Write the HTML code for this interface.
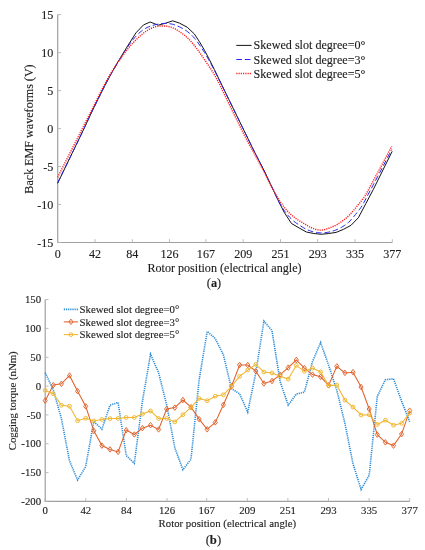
<!DOCTYPE html>
<html><head><meta charset="utf-8"><title>Figure</title>
<style>html,body{margin:0;padding:0;background:#fff;}svg{display:block;}text{font-family:'Liberation Serif', serif;fill:#1c1c1c;stroke:#1c1c1c;stroke-width:0.12px;}</style></head><body>
<svg width="425" height="550" viewBox="0 0 425 550">
<rect width="425" height="550" fill="#fff"/>
<g font-size="12.1">
<path d="M57.7,14.6 V242.5 H392.3" fill="none" stroke="#a0a0a0" stroke-width="1.2"/>
<line x1="57.7" x2="61.0" y1="242.5" y2="242.5" stroke="#b4b4b4" stroke-width="0.9"/>
<text x="53.300000000000004" y="246.6" text-anchor="end">-15</text>
<line x1="57.7" x2="61.0" y1="204.5" y2="204.5" stroke="#b4b4b4" stroke-width="0.9"/>
<text x="53.300000000000004" y="208.6" text-anchor="end">-10</text>
<line x1="57.7" x2="61.0" y1="166.5" y2="166.5" stroke="#b4b4b4" stroke-width="0.9"/>
<text x="53.300000000000004" y="170.6" text-anchor="end">-5</text>
<line x1="57.7" x2="61.0" y1="128.6" y2="128.6" stroke="#b4b4b4" stroke-width="0.9"/>
<text x="53.300000000000004" y="132.7" text-anchor="end">0</text>
<line x1="57.7" x2="61.0" y1="90.6" y2="90.6" stroke="#b4b4b4" stroke-width="0.9"/>
<text x="53.300000000000004" y="94.7" text-anchor="end">5</text>
<line x1="57.7" x2="61.0" y1="52.6" y2="52.6" stroke="#b4b4b4" stroke-width="0.9"/>
<text x="53.300000000000004" y="56.7" text-anchor="end">10</text>
<line x1="57.7" x2="61.0" y1="14.6" y2="14.6" stroke="#b4b4b4" stroke-width="0.9"/>
<text x="53.300000000000004" y="18.7" text-anchor="end">15</text>
<line x1="57.7" x2="57.7" y1="242.5" y2="239.2" stroke="#b4b4b4" stroke-width="0.9"/>
<text x="57.7" y="257.5" text-anchor="middle">0</text>
<line x1="95.0" x2="95.0" y1="242.5" y2="239.2" stroke="#b4b4b4" stroke-width="0.9"/>
<text x="95.0" y="257.5" text-anchor="middle">42</text>
<line x1="132.3" x2="132.3" y1="242.5" y2="239.2" stroke="#b4b4b4" stroke-width="0.9"/>
<text x="132.3" y="257.5" text-anchor="middle">84</text>
<line x1="169.5" x2="169.5" y1="242.5" y2="239.2" stroke="#b4b4b4" stroke-width="0.9"/>
<text x="169.5" y="257.5" text-anchor="middle">126</text>
<line x1="205.9" x2="205.9" y1="242.5" y2="239.2" stroke="#b4b4b4" stroke-width="0.9"/>
<text x="205.9" y="257.5" text-anchor="middle">167</text>
<line x1="243.2" x2="243.2" y1="242.5" y2="239.2" stroke="#b4b4b4" stroke-width="0.9"/>
<text x="243.2" y="257.5" text-anchor="middle">209</text>
<line x1="280.5" x2="280.5" y1="242.5" y2="239.2" stroke="#b4b4b4" stroke-width="0.9"/>
<text x="280.5" y="257.5" text-anchor="middle">251</text>
<line x1="317.7" x2="317.7" y1="242.5" y2="239.2" stroke="#b4b4b4" stroke-width="0.9"/>
<text x="317.7" y="257.5" text-anchor="middle">293</text>
<line x1="355.0" x2="355.0" y1="242.5" y2="239.2" stroke="#b4b4b4" stroke-width="0.9"/>
<text x="355.0" y="257.5" text-anchor="middle">335</text>
<line x1="392.3" x2="392.3" y1="242.5" y2="239.2" stroke="#b4b4b4" stroke-width="0.9"/>
<text x="392.3" y="257.5" text-anchor="middle">377</text>
<text x="224.5" y="271.9" text-anchor="middle">Rotor position (electrical angle)</text>
<text transform="translate(33.0,129) rotate(-90)" text-anchor="middle">Back EMF waveforms (V)</text>
<polyline points="57.6,183.3 84.0,128.6 92.2,111.0 98.7,97.8 104.5,86.3 111.8,72.6 119.1,59.9 124.9,50.4 129.3,43.3 136.0,32.8 143.5,24.9 150.2,22.0 158.2,25.2 165.3,23.3 172.7,20.8 179.6,23.2 187.2,27.2 194.4,34.0 199.5,41.8 204.5,50.3 209.4,59.6 214.4,69.6 219.2,79.6 229.0,99.8 238.8,119.9 248.6,139.9 253.5,150.0 264.0,170.5 273.5,190.5 278.0,200.0 284.1,212.2 291.5,223.5 299.0,227.9 306.4,232.0 313.8,233.5 321.3,234.3 328.7,233.5 336.1,232.4 343.6,229.3 351.0,225.3 358.4,217.7 365.9,203.5 373.3,189.5 392.2,151.3" fill="none" stroke="#141414" stroke-width="1.0" stroke-linejoin="round"/>
<polyline points="57.6,183.0 59.0,180.1 60.4,177.3 61.8,174.4 63.2,171.5 64.6,168.7 66.0,165.8 67.4,163.0 68.8,160.1 70.2,157.3 71.6,154.4 73.0,151.5 74.4,148.7 75.8,145.8 77.2,142.9 78.6,140.0 80.0,137.1 81.4,134.2 82.8,131.2 84.2,128.2 85.6,125.2 87.0,122.2 88.4,119.2 89.8,116.2 91.2,113.2 92.6,110.3 94.0,107.4 95.4,104.5 96.8,101.7 98.2,98.9 99.5,96.1 100.9,93.3 102.3,90.5 103.7,87.8 105.1,85.1 106.5,82.4 107.9,79.8 109.3,77.2 110.7,74.7 112.1,72.2 113.5,69.8 114.9,67.4 116.3,65.1 117.7,62.8 119.1,60.5 120.5,58.2 121.9,55.9 123.3,53.7 124.7,51.5 126.1,49.3 127.5,47.1 128.9,45.0 130.3,43.1 131.7,41.2 133.1,39.5 134.5,37.8 135.9,36.3 137.3,34.8 138.7,33.5 140.1,32.2 141.5,31.1 142.9,30.0 144.3,29.1 145.7,28.3 147.1,27.5 148.5,26.9 149.9,26.4 151.3,25.8 152.7,25.4 154.1,25.0 155.5,24.6 156.9,24.3 158.3,24.1 159.7,23.8 161.1,23.6 162.5,23.5 163.9,23.4 165.3,23.4 166.7,23.4 168.1,23.5 169.5,23.7 170.9,23.9 172.3,24.2 173.7,24.6 175.1,25.1 176.5,25.6 177.9,26.2 179.3,26.8 180.7,27.5 182.1,28.2 183.4,29.0 184.8,29.8 186.2,30.7 187.6,31.7 189.0,32.8 190.4,34.0 191.8,35.3 193.2,36.7 194.6,38.3 196.0,40.0 197.4,41.9 198.8,43.9 200.2,45.9 201.6,48.0 203.0,50.2 204.4,52.4 205.8,54.7 207.2,57.1 208.6,59.6 210.0,62.1 211.4,64.7 212.8,67.3 214.2,69.9 215.6,72.7 217.0,75.4 218.4,78.2 219.8,81.0 221.2,83.8 222.6,86.7 224.0,89.5 225.4,92.4 226.8,95.3 228.2,98.2 229.6,101.0 231.0,103.9 232.4,106.8 233.8,109.6 235.2,112.5 236.6,115.4 238.0,118.2 239.4,121.1 240.8,123.9 242.2,126.8 243.6,129.6 245.0,132.5 246.4,135.3 247.8,138.2 249.2,141.1 250.6,144.0 252.0,146.9 253.4,149.7 254.8,152.5 256.2,155.3 257.6,158.0 259.0,160.6 260.4,163.3 261.8,166.0 263.2,168.8 264.6,171.6 266.0,174.5 267.3,177.5 268.7,180.4 270.1,183.4 271.5,186.4 272.9,189.3 274.3,192.3 275.7,195.3 277.1,198.3 278.5,201.1 279.9,203.7 281.3,206.1 282.7,208.3 284.1,210.4 285.5,212.3 286.9,214.1 288.3,215.7 289.7,217.3 291.1,218.7 292.5,220.1 293.9,221.3 295.3,222.4 296.7,223.4 298.1,224.3 299.5,225.2 300.9,226.1 302.3,227.0 303.7,227.8 305.1,228.6 306.5,229.3 307.9,230.0 309.3,230.5 310.7,231.0 312.1,231.5 313.5,231.9 314.9,232.2 316.3,232.4 317.7,232.7 319.1,232.8 320.5,232.9 321.9,232.9 323.3,232.9 324.7,232.8 326.1,232.6 327.5,232.3 328.9,232.1 330.3,231.7 331.7,231.4 333.1,231.0 334.5,230.5 335.9,230.0 337.3,229.4 338.7,228.8 340.1,228.1 341.5,227.3 342.9,226.5 344.3,225.6 345.7,224.6 347.1,223.6 348.5,222.4 349.9,221.1 351.2,219.6 352.6,218.0 354.0,216.3 355.4,214.6 356.8,212.9 358.2,211.1 359.6,209.3 361.0,207.4 362.4,205.2 363.8,202.7 365.2,200.1 366.6,197.4 368.0,194.8 369.4,192.1 370.8,189.5 372.2,186.9 373.6,184.3 375.0,181.6 376.4,179.0 377.8,176.3 379.2,173.6 380.6,171.0 382.0,168.3 383.4,165.6 384.8,162.9 386.2,160.2 387.6,157.5 389.0,154.9 390.4,152.2 391.8,149.5" fill="none" stroke="#2222f5" stroke-width="1.0" stroke-dasharray="5.7,2.8"/>
<polyline points="57.6,177.4 59.0,174.6 60.4,171.9 61.8,169.1 63.2,166.4 64.6,163.6 66.0,160.8 67.4,158.1 68.8,155.3 70.2,152.5 71.6,149.8 73.0,147.0 74.4,144.3 75.8,141.5 77.2,138.7 78.6,136.0 80.0,133.2 81.4,130.4 82.8,127.7 84.2,124.9 85.6,122.2 87.0,119.4 88.4,116.7 89.8,113.9 91.2,111.1 92.6,108.3 94.0,105.4 95.4,102.5 96.8,99.7 98.2,96.9 99.5,94.1 100.9,91.4 102.3,88.7 103.7,86.0 105.1,83.4 106.5,80.9 107.9,78.4 109.3,75.9 110.7,73.5 112.1,71.2 113.5,69.0 114.9,66.8 116.3,64.7 117.7,62.6 119.1,60.6 120.5,58.6 121.9,56.6 123.3,54.7 124.7,52.9 126.1,51.0 127.5,49.2 128.9,47.5 130.3,45.8 131.7,44.2 133.1,42.7 134.5,41.3 135.9,39.9 137.3,38.6 138.7,37.3 140.1,36.0 141.5,34.8 142.9,33.6 144.3,32.5 145.7,31.5 147.1,30.6 148.5,29.7 149.9,28.9 151.3,28.3 152.7,27.7 154.1,27.1 155.5,26.7 156.9,26.4 158.3,26.2 159.7,26.0 161.1,25.9 162.5,25.9 163.9,25.9 165.3,26.0 166.7,26.2 168.1,26.4 169.5,26.7 170.9,27.1 172.3,27.6 173.7,28.2 175.1,28.9 176.5,29.7 177.9,30.6 179.3,31.5 180.7,32.4 182.1,33.4 183.4,34.4 184.8,35.5 186.2,36.7 187.6,38.0 189.0,39.3 190.4,40.8 191.8,42.4 193.2,44.0 194.6,45.8 196.0,47.6 197.4,49.4 198.8,51.4 200.2,53.4 201.6,55.4 203.0,57.4 204.4,59.4 205.8,61.5 207.2,63.6 208.6,65.7 210.0,67.8 211.4,69.9 212.8,72.2 214.2,74.5 215.6,76.8 217.0,79.3 218.4,81.9 219.8,84.6 221.2,87.5 222.6,90.5 224.0,93.5 225.4,96.5 226.8,99.4 228.2,102.3 229.6,105.1 231.0,108.0 232.4,110.9 233.8,113.8 235.2,116.6 236.6,119.5 238.0,122.3 239.4,125.2 240.8,128.0 242.2,130.8 243.6,133.6 245.0,136.4 246.4,139.1 247.8,141.7 249.2,144.3 250.6,146.8 252.0,149.4 253.4,152.0 254.8,154.5 256.2,157.1 257.6,159.7 259.0,162.3 260.4,164.9 261.8,167.6 263.2,170.2 264.6,172.9 266.0,175.7 267.3,178.5 268.7,181.4 270.1,184.2 271.5,186.9 272.9,189.5 274.3,192.0 275.7,194.4 277.1,196.7 278.5,199.0 279.9,201.2 281.3,203.2 282.7,205.2 284.1,207.1 285.5,208.8 286.9,210.5 288.3,212.0 289.7,213.3 291.1,214.6 292.5,215.9 293.9,217.0 295.3,218.1 296.7,219.1 298.1,220.0 299.5,220.9 300.9,221.7 302.3,222.5 303.7,223.4 305.1,224.2 306.5,225.1 307.9,225.9 309.3,226.7 310.7,227.4 312.1,228.0 313.5,228.6 314.9,229.1 316.3,229.5 317.7,229.8 319.1,230.0 320.5,230.1 321.9,230.1 323.3,229.9 324.7,229.6 326.1,229.2 327.5,228.7 328.9,228.2 330.3,227.7 331.7,227.1 333.1,226.5 334.5,225.9 335.9,225.1 337.3,224.4 338.7,223.5 340.1,222.6 341.5,221.7 342.9,220.6 344.3,219.5 345.7,218.4 347.1,217.2 348.5,215.9 349.9,214.6 351.2,213.1 352.6,211.5 354.0,209.9 355.4,208.2 356.8,206.5 358.2,204.8 359.6,203.1 361.0,201.4 362.4,199.5 363.8,197.6 365.2,195.6 366.6,193.3 368.0,190.6 369.4,188.0 370.8,185.4 372.2,182.8 373.6,180.2 375.0,177.6 376.4,175.0 377.8,172.4 379.2,169.8 380.6,167.2 382.0,164.6 383.4,162.0 384.8,159.4 386.2,156.8 387.6,154.2 389.0,151.6 390.4,149.0 391.8,146.4" fill="none" stroke="#ff1a1a" stroke-width="1.45" stroke-dasharray="1.15,1.1"/>
<line x1="236.3" x2="251.6" y1="45.4" y2="45.4" stroke="#141414" stroke-width="1.0"/>
<line x1="236.3" x2="251.6" y1="59.5" y2="59.5" stroke="#2222f5" stroke-width="1.0" stroke-dasharray="5.7,2.8"/>
<line x1="236.3" x2="251.6" y1="73.5" y2="73.5" stroke="#ff1a1a" stroke-width="1.45" stroke-dasharray="1.15,1.1"/>
<text x="253.6" y="49.4">Skewed slot degree=0°</text>
<text x="253.6" y="63.5">Skewed slot degree=3°</text>
<text x="253.6" y="77.5">Skewed slot degree=5°</text>
</g>
<text x="214" y="286.9" text-anchor="middle" font-size="12.3">(<tspan font-weight="bold">a</tspan>)</text>
<g font-size="10.8">
<path d="M45.2,299.6 V501.4 H409.7" fill="none" stroke="#a0a0a0" stroke-width="1.2"/>
<line x1="45.2" x2="48.5" y1="501.4" y2="501.4" stroke="#b4b4b4" stroke-width="0.9"/>
<text x="41.1" y="505.1" text-anchor="end">-200</text>
<line x1="45.2" x2="48.5" y1="472.6" y2="472.6" stroke="#b4b4b4" stroke-width="0.9"/>
<text x="41.1" y="476.3" text-anchor="end">-150</text>
<line x1="45.2" x2="48.5" y1="443.7" y2="443.7" stroke="#b4b4b4" stroke-width="0.9"/>
<text x="41.1" y="447.4" text-anchor="end">-100</text>
<line x1="45.2" x2="48.5" y1="414.9" y2="414.9" stroke="#b4b4b4" stroke-width="0.9"/>
<text x="41.1" y="418.6" text-anchor="end">-50</text>
<line x1="45.2" x2="48.5" y1="386.1" y2="386.1" stroke="#b4b4b4" stroke-width="0.9"/>
<text x="41.1" y="389.8" text-anchor="end">0</text>
<line x1="45.2" x2="48.5" y1="357.3" y2="357.3" stroke="#b4b4b4" stroke-width="0.9"/>
<text x="41.1" y="361.0" text-anchor="end">50</text>
<line x1="45.2" x2="48.5" y1="328.4" y2="328.4" stroke="#b4b4b4" stroke-width="0.9"/>
<text x="41.1" y="332.1" text-anchor="end">100</text>
<line x1="45.2" x2="48.5" y1="299.6" y2="299.6" stroke="#b4b4b4" stroke-width="0.9"/>
<text x="41.1" y="303.3" text-anchor="end">150</text>
<line x1="45.2" x2="45.2" y1="501.4" y2="498.09999999999997" stroke="#b4b4b4" stroke-width="0.9"/>
<text x="45.2" y="514.4" text-anchor="middle">0</text>
<line x1="85.8" x2="85.8" y1="501.4" y2="498.09999999999997" stroke="#b4b4b4" stroke-width="0.9"/>
<text x="85.8" y="514.4" text-anchor="middle">42</text>
<line x1="126.4" x2="126.4" y1="501.4" y2="498.09999999999997" stroke="#b4b4b4" stroke-width="0.9"/>
<text x="126.4" y="514.4" text-anchor="middle">84</text>
<line x1="167.0" x2="167.0" y1="501.4" y2="498.09999999999997" stroke="#b4b4b4" stroke-width="0.9"/>
<text x="167.0" y="514.4" text-anchor="middle">126</text>
<line x1="206.7" x2="206.7" y1="501.4" y2="498.09999999999997" stroke="#b4b4b4" stroke-width="0.9"/>
<text x="206.7" y="514.4" text-anchor="middle">167</text>
<line x1="247.3" x2="247.3" y1="501.4" y2="498.09999999999997" stroke="#b4b4b4" stroke-width="0.9"/>
<text x="247.3" y="514.4" text-anchor="middle">209</text>
<line x1="287.9" x2="287.9" y1="501.4" y2="498.09999999999997" stroke="#b4b4b4" stroke-width="0.9"/>
<text x="287.9" y="514.4" text-anchor="middle">251</text>
<line x1="328.5" x2="328.5" y1="501.4" y2="498.09999999999997" stroke="#b4b4b4" stroke-width="0.9"/>
<text x="328.5" y="514.4" text-anchor="middle">293</text>
<line x1="369.1" x2="369.1" y1="501.4" y2="498.09999999999997" stroke="#b4b4b4" stroke-width="0.9"/>
<text x="369.1" y="514.4" text-anchor="middle">335</text>
<line x1="409.7" x2="409.7" y1="501.4" y2="498.09999999999997" stroke="#b4b4b4" stroke-width="0.9"/>
<text x="409.7" y="514.4" text-anchor="middle">377</text>
<text x="227.4" y="527.4" text-anchor="middle">Rotor position (electrical angle)</text>
<text transform="translate(16.0,400.8) rotate(-90)" text-anchor="middle">Cogging torque (nNm)</text>
<polyline points="45.2,372.7 53.3,389.9 61.4,418.5 69.5,460.9 77.6,480.0 85.7,466.6 93.8,421.5 101.9,429.2 110.0,405.3 118.1,402.4 126.2,455.4 134.3,463.4 142.4,401.5 150.5,354.2 158.6,372.7 166.7,405.0 174.8,447.7 182.9,469.7 191.0,459.2 199.1,380.0 207.2,331.4 215.3,338.6 223.4,354.9 231.5,388.7 239.6,393.8 247.7,412.1 255.8,373.0 263.9,321.1 272.0,330.6 280.1,381.6 288.2,405.1 296.3,394.0 304.4,392.1 312.5,361.5 320.6,342.5 328.7,365.5 336.8,390.3 344.9,423.3 353.0,463.8 361.1,489.5 369.2,475.2 377.3,396.3 385.4,379.7 393.5,378.8 401.6,401.1 409.7,421.7" fill="none" stroke="#2b8bd6" stroke-width="1.6" stroke-dasharray="1.2,0.95"/>
<polyline points="45.2,400.7 53.3,385.1 61.4,383.8 69.5,375.5 77.6,391.2 85.7,406.3 93.8,430.8 101.9,445.6 110.0,449.4 118.1,451.9 126.2,430.1 134.3,434.5 142.4,428.2 150.5,425.2 158.6,429.5 166.7,409.0 174.8,407.6 182.9,400.0 191.0,407.2 199.1,419.1 207.2,429.3 215.3,422.4 223.4,404.8 231.5,386.2 239.6,365.0 247.7,365.0 255.8,371.1 263.9,383.5 272.0,381.0 280.1,374.9 288.2,367.7 296.3,360.0 304.4,368.1 312.5,374.6 320.6,376.8 328.7,385.3 336.8,366.3 344.9,372.9 353.0,372.2 361.1,387.0 369.2,409.0 377.3,434.7 385.4,442.3 393.5,445.6 401.6,434.1 409.7,410.6" fill="none" stroke="#e0622b" stroke-width="1.05"/>
<polyline points="45.2,390.4 53.3,393.7 61.4,405.3 69.5,406.2 77.6,420.7 85.7,418.3 93.8,420.9 101.9,419.5 110.0,418.6 118.1,418.4 126.2,417.5 134.3,417.5 142.4,414.1 150.5,410.9 158.6,418.5 166.7,418.5 174.8,421.9 182.9,414.7 191.0,407.4 199.1,398.4 207.2,400.7 215.3,396.2 223.4,394.8 231.5,386.4 239.6,376.4 247.7,370.1 255.8,364.4 263.9,372.0 272.0,373.0 280.1,376.2 288.2,379.1 296.3,365.4 304.4,371.3 312.5,368.1 320.6,371.9 328.7,385.6 336.8,385.1 344.9,400.1 353.0,407.1 361.1,415.0 369.2,414.7 377.3,424.5 385.4,420.2 393.5,425.2 401.6,423.3 409.7,413.1" fill="none" stroke="#efb62e" stroke-width="1.05"/>
<path d="M43.2,400.7 L45.2,397.9 L47.2,400.7 L45.2,403.4 Z" fill="none" stroke="#e0622b" stroke-width="0.95"/>
<path d="M51.3,385.1 L53.3,382.4 L55.4,385.1 L53.3,387.9 Z" fill="none" stroke="#e0622b" stroke-width="0.95"/>
<path d="M59.4,383.8 L61.4,381.1 L63.5,383.8 L61.4,386.6 Z" fill="none" stroke="#e0622b" stroke-width="0.95"/>
<path d="M67.5,375.5 L69.5,372.8 L71.5,375.5 L69.5,378.2 Z" fill="none" stroke="#e0622b" stroke-width="0.95"/>
<path d="M75.5,391.2 L77.6,388.4 L79.6,391.2 L77.6,393.9 Z" fill="none" stroke="#e0622b" stroke-width="0.95"/>
<path d="M83.7,406.3 L85.7,403.6 L87.8,406.3 L85.7,409.1 Z" fill="none" stroke="#e0622b" stroke-width="0.95"/>
<path d="M91.8,430.8 L93.8,428.1 L95.8,430.8 L93.8,433.6 Z" fill="none" stroke="#e0622b" stroke-width="0.95"/>
<path d="M99.9,445.6 L101.9,442.9 L104.0,445.6 L101.9,448.4 Z" fill="none" stroke="#e0622b" stroke-width="0.95"/>
<path d="M108.0,449.4 L110.0,446.6 L112.0,449.4 L110.0,452.1 Z" fill="none" stroke="#e0622b" stroke-width="0.95"/>
<path d="M116.0,451.9 L118.1,449.1 L120.1,451.9 L118.1,454.6 Z" fill="none" stroke="#e0622b" stroke-width="0.95"/>
<path d="M124.2,430.1 L126.2,427.4 L128.2,430.1 L126.2,432.9 Z" fill="none" stroke="#e0622b" stroke-width="0.95"/>
<path d="M132.2,434.5 L134.3,431.8 L136.4,434.5 L134.3,437.2 Z" fill="none" stroke="#e0622b" stroke-width="0.95"/>
<path d="M140.3,428.2 L142.4,425.4 L144.4,428.2 L142.4,430.9 Z" fill="none" stroke="#e0622b" stroke-width="0.95"/>
<path d="M148.4,425.2 L150.5,422.4 L152.6,425.2 L150.5,427.9 Z" fill="none" stroke="#e0622b" stroke-width="0.95"/>
<path d="M156.5,429.5 L158.6,426.8 L160.7,429.5 L158.6,432.2 Z" fill="none" stroke="#e0622b" stroke-width="0.95"/>
<path d="M164.6,409.0 L166.7,406.2 L168.8,409.0 L166.7,411.8 Z" fill="none" stroke="#e0622b" stroke-width="0.95"/>
<path d="M172.8,407.6 L174.8,404.9 L176.9,407.6 L174.8,410.4 Z" fill="none" stroke="#e0622b" stroke-width="0.95"/>
<path d="M180.8,400.0 L182.9,397.2 L184.9,400.0 L182.9,402.8 Z" fill="none" stroke="#e0622b" stroke-width="0.95"/>
<path d="M188.9,407.2 L191.0,404.4 L193.1,407.2 L191.0,409.9 Z" fill="none" stroke="#e0622b" stroke-width="0.95"/>
<path d="M197.1,419.1 L199.1,416.4 L201.2,419.1 L199.1,421.9 Z" fill="none" stroke="#e0622b" stroke-width="0.95"/>
<path d="M205.1,429.3 L207.2,426.6 L209.2,429.3 L207.2,432.1 Z" fill="none" stroke="#e0622b" stroke-width="0.95"/>
<path d="M213.2,422.4 L215.3,419.6 L217.4,422.4 L215.3,425.1 Z" fill="none" stroke="#e0622b" stroke-width="0.95"/>
<path d="M221.3,404.8 L223.4,402.1 L225.4,404.8 L223.4,407.6 Z" fill="none" stroke="#e0622b" stroke-width="0.95"/>
<path d="M229.4,386.2 L231.5,383.4 L233.6,386.2 L231.5,388.9 Z" fill="none" stroke="#e0622b" stroke-width="0.95"/>
<path d="M237.5,365.0 L239.6,362.2 L241.6,365.0 L239.6,367.8 Z" fill="none" stroke="#e0622b" stroke-width="0.95"/>
<path d="M245.6,365.0 L247.7,362.2 L249.8,365.0 L247.7,367.8 Z" fill="none" stroke="#e0622b" stroke-width="0.95"/>
<path d="M253.8,371.1 L255.8,368.4 L257.9,371.1 L255.8,373.9 Z" fill="none" stroke="#e0622b" stroke-width="0.95"/>
<path d="M261.8,383.5 L263.9,380.8 L265.9,383.5 L263.9,386.2 Z" fill="none" stroke="#e0622b" stroke-width="0.95"/>
<path d="M269.9,381.0 L272.0,378.2 L274.1,381.0 L272.0,383.8 Z" fill="none" stroke="#e0622b" stroke-width="0.95"/>
<path d="M278.0,374.9 L280.1,372.1 L282.1,374.9 L280.1,377.6 Z" fill="none" stroke="#e0622b" stroke-width="0.95"/>
<path d="M286.1,367.7 L288.2,364.9 L290.2,367.7 L288.2,370.4 Z" fill="none" stroke="#e0622b" stroke-width="0.95"/>
<path d="M294.2,360.0 L296.3,357.2 L298.4,360.0 L296.3,362.8 Z" fill="none" stroke="#e0622b" stroke-width="0.95"/>
<path d="M302.3,368.1 L304.4,365.4 L306.4,368.1 L304.4,370.9 Z" fill="none" stroke="#e0622b" stroke-width="0.95"/>
<path d="M310.4,374.6 L312.5,371.9 L314.6,374.6 L312.5,377.4 Z" fill="none" stroke="#e0622b" stroke-width="0.95"/>
<path d="M318.5,376.8 L320.6,374.1 L322.6,376.8 L320.6,379.6 Z" fill="none" stroke="#e0622b" stroke-width="0.95"/>
<path d="M326.6,385.3 L328.7,382.6 L330.8,385.3 L328.7,388.1 Z" fill="none" stroke="#e0622b" stroke-width="0.95"/>
<path d="M334.7,366.3 L336.8,363.6 L338.8,366.3 L336.8,369.1 Z" fill="none" stroke="#e0622b" stroke-width="0.95"/>
<path d="M342.8,372.9 L344.9,370.1 L346.9,372.9 L344.9,375.6 Z" fill="none" stroke="#e0622b" stroke-width="0.95"/>
<path d="M350.9,372.2 L353.0,369.4 L355.1,372.2 L353.0,374.9 Z" fill="none" stroke="#e0622b" stroke-width="0.95"/>
<path d="M359.0,387.0 L361.1,384.2 L363.1,387.0 L361.1,389.8 Z" fill="none" stroke="#e0622b" stroke-width="0.95"/>
<path d="M367.1,409.0 L369.2,406.2 L371.2,409.0 L369.2,411.8 Z" fill="none" stroke="#e0622b" stroke-width="0.95"/>
<path d="M375.2,434.7 L377.3,431.9 L379.3,434.7 L377.3,437.4 Z" fill="none" stroke="#e0622b" stroke-width="0.95"/>
<path d="M383.3,442.3 L385.4,439.6 L387.4,442.3 L385.4,445.1 Z" fill="none" stroke="#e0622b" stroke-width="0.95"/>
<path d="M391.4,445.6 L393.5,442.9 L395.6,445.6 L393.5,448.4 Z" fill="none" stroke="#e0622b" stroke-width="0.95"/>
<path d="M399.5,434.1 L401.6,431.4 L403.6,434.1 L401.6,436.9 Z" fill="none" stroke="#e0622b" stroke-width="0.95"/>
<path d="M407.6,410.6 L409.7,407.9 L411.8,410.6 L409.7,413.4 Z" fill="none" stroke="#e0622b" stroke-width="0.95"/>
<circle cx="45.2" cy="390.4" r="1.9" fill="none" stroke="#efb62e" stroke-width="0.95"/>
<circle cx="53.3" cy="393.7" r="1.9" fill="none" stroke="#efb62e" stroke-width="0.95"/>
<circle cx="61.4" cy="405.3" r="1.9" fill="none" stroke="#efb62e" stroke-width="0.95"/>
<circle cx="69.5" cy="406.2" r="1.9" fill="none" stroke="#efb62e" stroke-width="0.95"/>
<circle cx="77.6" cy="420.7" r="1.9" fill="none" stroke="#efb62e" stroke-width="0.95"/>
<circle cx="85.7" cy="418.3" r="1.9" fill="none" stroke="#efb62e" stroke-width="0.95"/>
<circle cx="93.8" cy="420.9" r="1.9" fill="none" stroke="#efb62e" stroke-width="0.95"/>
<circle cx="101.9" cy="419.5" r="1.9" fill="none" stroke="#efb62e" stroke-width="0.95"/>
<circle cx="110.0" cy="418.6" r="1.9" fill="none" stroke="#efb62e" stroke-width="0.95"/>
<circle cx="118.1" cy="418.4" r="1.9" fill="none" stroke="#efb62e" stroke-width="0.95"/>
<circle cx="126.2" cy="417.5" r="1.9" fill="none" stroke="#efb62e" stroke-width="0.95"/>
<circle cx="134.3" cy="417.5" r="1.9" fill="none" stroke="#efb62e" stroke-width="0.95"/>
<circle cx="142.4" cy="414.1" r="1.9" fill="none" stroke="#efb62e" stroke-width="0.95"/>
<circle cx="150.5" cy="410.9" r="1.9" fill="none" stroke="#efb62e" stroke-width="0.95"/>
<circle cx="158.6" cy="418.5" r="1.9" fill="none" stroke="#efb62e" stroke-width="0.95"/>
<circle cx="166.7" cy="418.5" r="1.9" fill="none" stroke="#efb62e" stroke-width="0.95"/>
<circle cx="174.8" cy="421.9" r="1.9" fill="none" stroke="#efb62e" stroke-width="0.95"/>
<circle cx="182.9" cy="414.7" r="1.9" fill="none" stroke="#efb62e" stroke-width="0.95"/>
<circle cx="191.0" cy="407.4" r="1.9" fill="none" stroke="#efb62e" stroke-width="0.95"/>
<circle cx="199.1" cy="398.4" r="1.9" fill="none" stroke="#efb62e" stroke-width="0.95"/>
<circle cx="207.2" cy="400.7" r="1.9" fill="none" stroke="#efb62e" stroke-width="0.95"/>
<circle cx="215.3" cy="396.2" r="1.9" fill="none" stroke="#efb62e" stroke-width="0.95"/>
<circle cx="223.4" cy="394.8" r="1.9" fill="none" stroke="#efb62e" stroke-width="0.95"/>
<circle cx="231.5" cy="386.4" r="1.9" fill="none" stroke="#efb62e" stroke-width="0.95"/>
<circle cx="239.6" cy="376.4" r="1.9" fill="none" stroke="#efb62e" stroke-width="0.95"/>
<circle cx="247.7" cy="370.1" r="1.9" fill="none" stroke="#efb62e" stroke-width="0.95"/>
<circle cx="255.8" cy="364.4" r="1.9" fill="none" stroke="#efb62e" stroke-width="0.95"/>
<circle cx="263.9" cy="372.0" r="1.9" fill="none" stroke="#efb62e" stroke-width="0.95"/>
<circle cx="272.0" cy="373.0" r="1.9" fill="none" stroke="#efb62e" stroke-width="0.95"/>
<circle cx="280.1" cy="376.2" r="1.9" fill="none" stroke="#efb62e" stroke-width="0.95"/>
<circle cx="288.2" cy="379.1" r="1.9" fill="none" stroke="#efb62e" stroke-width="0.95"/>
<circle cx="296.3" cy="365.4" r="1.9" fill="none" stroke="#efb62e" stroke-width="0.95"/>
<circle cx="304.4" cy="371.3" r="1.9" fill="none" stroke="#efb62e" stroke-width="0.95"/>
<circle cx="312.5" cy="368.1" r="1.9" fill="none" stroke="#efb62e" stroke-width="0.95"/>
<circle cx="320.6" cy="371.9" r="1.9" fill="none" stroke="#efb62e" stroke-width="0.95"/>
<circle cx="328.7" cy="385.6" r="1.9" fill="none" stroke="#efb62e" stroke-width="0.95"/>
<circle cx="336.8" cy="385.1" r="1.9" fill="none" stroke="#efb62e" stroke-width="0.95"/>
<circle cx="344.9" cy="400.1" r="1.9" fill="none" stroke="#efb62e" stroke-width="0.95"/>
<circle cx="353.0" cy="407.1" r="1.9" fill="none" stroke="#efb62e" stroke-width="0.95"/>
<circle cx="361.1" cy="415.0" r="1.9" fill="none" stroke="#efb62e" stroke-width="0.95"/>
<circle cx="369.2" cy="414.7" r="1.9" fill="none" stroke="#efb62e" stroke-width="0.95"/>
<circle cx="377.3" cy="424.5" r="1.9" fill="none" stroke="#efb62e" stroke-width="0.95"/>
<circle cx="385.4" cy="420.2" r="1.9" fill="none" stroke="#efb62e" stroke-width="0.95"/>
<circle cx="393.5" cy="425.2" r="1.9" fill="none" stroke="#efb62e" stroke-width="0.95"/>
<circle cx="401.6" cy="423.3" r="1.9" fill="none" stroke="#efb62e" stroke-width="0.95"/>
<circle cx="409.7" cy="413.1" r="1.9" fill="none" stroke="#efb62e" stroke-width="0.95"/>
<line x1="63.8" x2="78.0" y1="309.4" y2="309.4" stroke="#2b8bd6" stroke-width="1.6" stroke-dasharray="1.2,0.95"/>
<line x1="63.8" x2="78.0" y1="321.9" y2="321.9" stroke="#e0622b" stroke-width="1.05"/>
<line x1="63.8" x2="78.0" y1="334.6" y2="334.6" stroke="#efb62e" stroke-width="1.05"/>
<path d="M68.9,321.9 L70.9,319.1 L73.0,321.9 L70.9,324.6 Z" fill="none" stroke="#e0622b" stroke-width="0.95"/>
<circle cx="70.9" cy="334.6" r="1.9" fill="none" stroke="#efb62e" stroke-width="0.95"/>
<text x="79.5" y="313.0">Skewed slot degree=0°</text>
<text x="79.5" y="325.5">Skewed slot degree=3°</text>
<text x="79.5" y="338.2">Skewed slot degree=5°</text>
</g>
<text x="213.4" y="543.6" text-anchor="middle" font-size="12.7">(<tspan font-weight="bold">b</tspan>)</text>
</svg></body></html>
